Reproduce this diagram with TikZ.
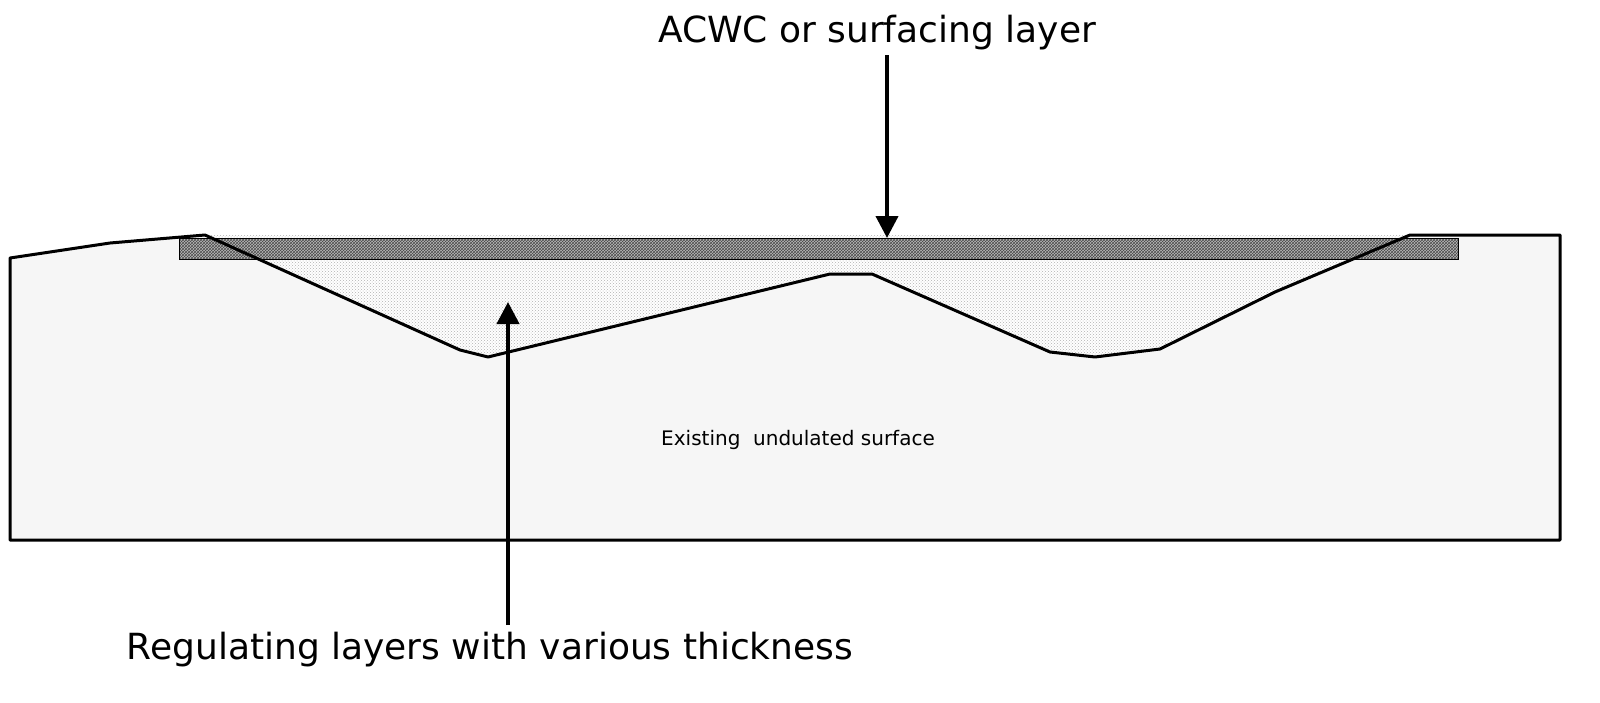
\documentclass[tikz,border=0pt]{standalone}
\usepackage{fontspec}
\setmainfont{DejaVu Sans}
\usetikzlibrary{patterns,arrows.meta}
\begin{document}
\begin{tikzpicture}[x=1pt,y=-1pt,
  edge/.style={line width=3pt,line join=round},
  arr/.style={line width=4pt,-{Triangle[length=22pt,width=22pt]}},
  lbl/.style={font=\fontsize{36}{42}\selectfont,inner sep=0pt}]
\draw[draw=none,fill=white] (0,0) rectangle (1600,702);
% existing surface
\fill[gray!7] (10,258) -- (110,243) -- (205,235) -- (460,350) -- (488,357) -- (830,274) -- (872,274) -- (1050,352) -- (1095,357) -- (1160,349) -- (1275,292) -- (1410,235) -- (1560,235) -- (1560,540) -- (10,540) -- cycle;
% regulating layer
\fill[white] (205,235) -- (1410,235) -- (1275,292) -- (1160,349) -- (1095,357) -- (1050,352) -- (872,274) -- (830,274) -- (488,357) -- (460,350) -- cycle;
\fill[pattern=crosshatch dots,pattern color=gray!60] (205,235) -- (1410,235) -- (1275,292) -- (1160,349) -- (1095,357) -- (1050,352) -- (872,274) -- (830,274) -- (488,357) -- (460,350) -- cycle;
% wearing course
\node (acwc) [fill=gray!55,minimum width=1279pt,minimum height=21pt,inner sep=0pt,anchor=north west] at (179,238) {};
\fill[pattern=crosshatch,pattern color=black!70] (acwc.south west) rectangle (acwc.north east);
\draw[line width=1pt] (acwc.south west) rectangle (acwc.north east);
% outline
\draw[edge] (10,258) -- (110,243) -- (205,235) -- (460,350) -- (488,357) -- (830,274) -- (872,274) -- (1050,352) -- (1095,357) -- (1160,349) -- (1275,292) -- (1410,235) -- (1560,235) -- (1560,540) -- (10,540) -- cycle;
% labels
\node (top) [lbl] at (877,33) {ACWC or surfacing layer};
\node (bot) [lbl] at (490,650) {Regulating layers with various thickness};
\node (mid) [inner sep=0pt,font=\fontsize{20}{24}\selectfont] at (798,440) {Existing\ \ undulated surface};
\coordinate (ta) at (887,238);
\coordinate (ba) at (508,302);
\draw[arr] (887,55) -- (ta);
\draw[arr] (508,625) -- (ba);
\pgfresetboundingbox
\useasboundingbox (0,0) rectangle (1600,702);
\end{tikzpicture}
\end{document}
